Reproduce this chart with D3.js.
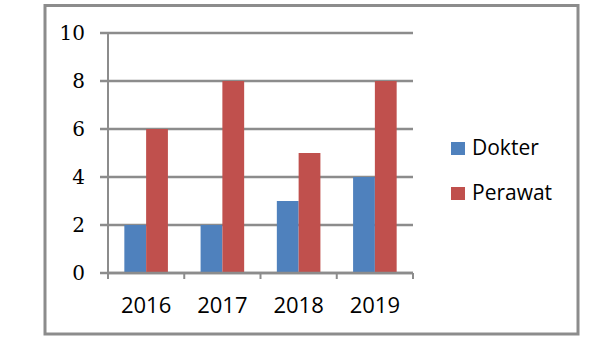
<!DOCTYPE html>
<html><head><meta charset="utf-8">
<script src="https://cdn.jsdelivr.net/npm/d3@7"></script>
<style>body{margin:0;background:#fff}svg{display:block}</style>
</head><body>
<svg id="c" width="600" height="358"></svg>
<script>
const categories = ["2016","2017","2018","2019"];
const seriesNames = ["Dokter","Perawat"];
const dokter = [2,2,3,4];
const perawat = [6,8,5,8];
const yTicks = [0,2,4,6,8,10];
const colors = ["#4F81BD","#C0504D"];

const svg = d3.select("#c");
const L=108, R=413, T=33, B=273;
const x = d3.scaleBand().domain(categories).range([L,R]).paddingInner(1.5/3.5).paddingOuter(0.75/3.5);
const xs = d3.scaleBand().domain(seriesNames).range([0,x.bandwidth()]);
const y = d3.scaleLinear().domain([0,10]).range([B,T]);
const grey="#8c8c8c";

// outer border
svg.append("rect").attr("x",45).attr("y",5.5).attr("width",533).attr("height",328.5)
  .attr("fill","#fff").attr("stroke",grey).attr("stroke-width",3);

// gridlines + y ticks
svg.append("g").selectAll("line").data(yTicks).join("line")
  .attr("x1",100).attr("x2",R).attr("y1",d=>y(d)).attr("y2",d=>y(d))
  .attr("stroke",grey).attr("stroke-width",2.5);

// y axis line
svg.append("line").attr("x1",L).attr("x2",L).attr("y1",T).attr("y2",B+6).attr("stroke",grey).attr("stroke-width",2);

// y labels
svg.append("g").selectAll("text").data(yTicks).join("text")
  .attr("x",85).attr("y",d=>y(d)).attr("dy","0.36em").attr("text-anchor","end")
  .attr("font-family","DejaVu Serif, serif").attr("font-size",20).attr("fill","#000").text(d=>d);

// bars
const data = categories.map((c,i)=>({c, vals:[dokter[i],perawat[i]]}));
const g = svg.append("g");
data.forEach(d=>{
  d.vals.forEach((v,j)=>{
    g.append("rect").attr("x",x(d.c)+xs(seriesNames[j])).attr("width",xs.bandwidth())
      .attr("y",y(v)).attr("height",y(0)-y(v)).attr("fill",colors[j]);
  });
});

// x axis line + ticks
svg.append("line").attr("x1",L).attr("x2",R).attr("y1",B).attr("y2",B).attr("stroke",grey).attr("stroke-width",2.5);
const tickX = d3.range(categories.length+1).map(i=>L+i*(R-L)/categories.length);
svg.append("g").selectAll("line").data(tickX).join("line")
  .attr("x1",d=>d).attr("x2",d=>d).attr("y1",B).attr("y2",B+6).attr("stroke",grey).attr("stroke-width",2);

// x labels
svg.append("g").selectAll("text").data(categories).join("text")
  .attr("x",d=>x(d)+x.bandwidth()/2).attr("y",313).attr("text-anchor","middle")
  .attr("font-family","Open Sans, sans-serif").attr("font-size",22).attr("fill","#000").text(d=>d);

// legend
const lg = svg.append("g");
seriesNames.forEach((s,i)=>{
  const yy = 148 + i*45;
  lg.append("rect").attr("x",451).attr("y",yy-6).attr("width",14).attr("height",13).attr("fill",colors[i]);
  lg.append("text").attr("x",472).attr("y",yy).attr("dy","0.35em")
    .attr("font-family","Open Sans, sans-serif").attr("font-size",21).attr("fill","#000").text(s);
});
</script>
</body></html>
